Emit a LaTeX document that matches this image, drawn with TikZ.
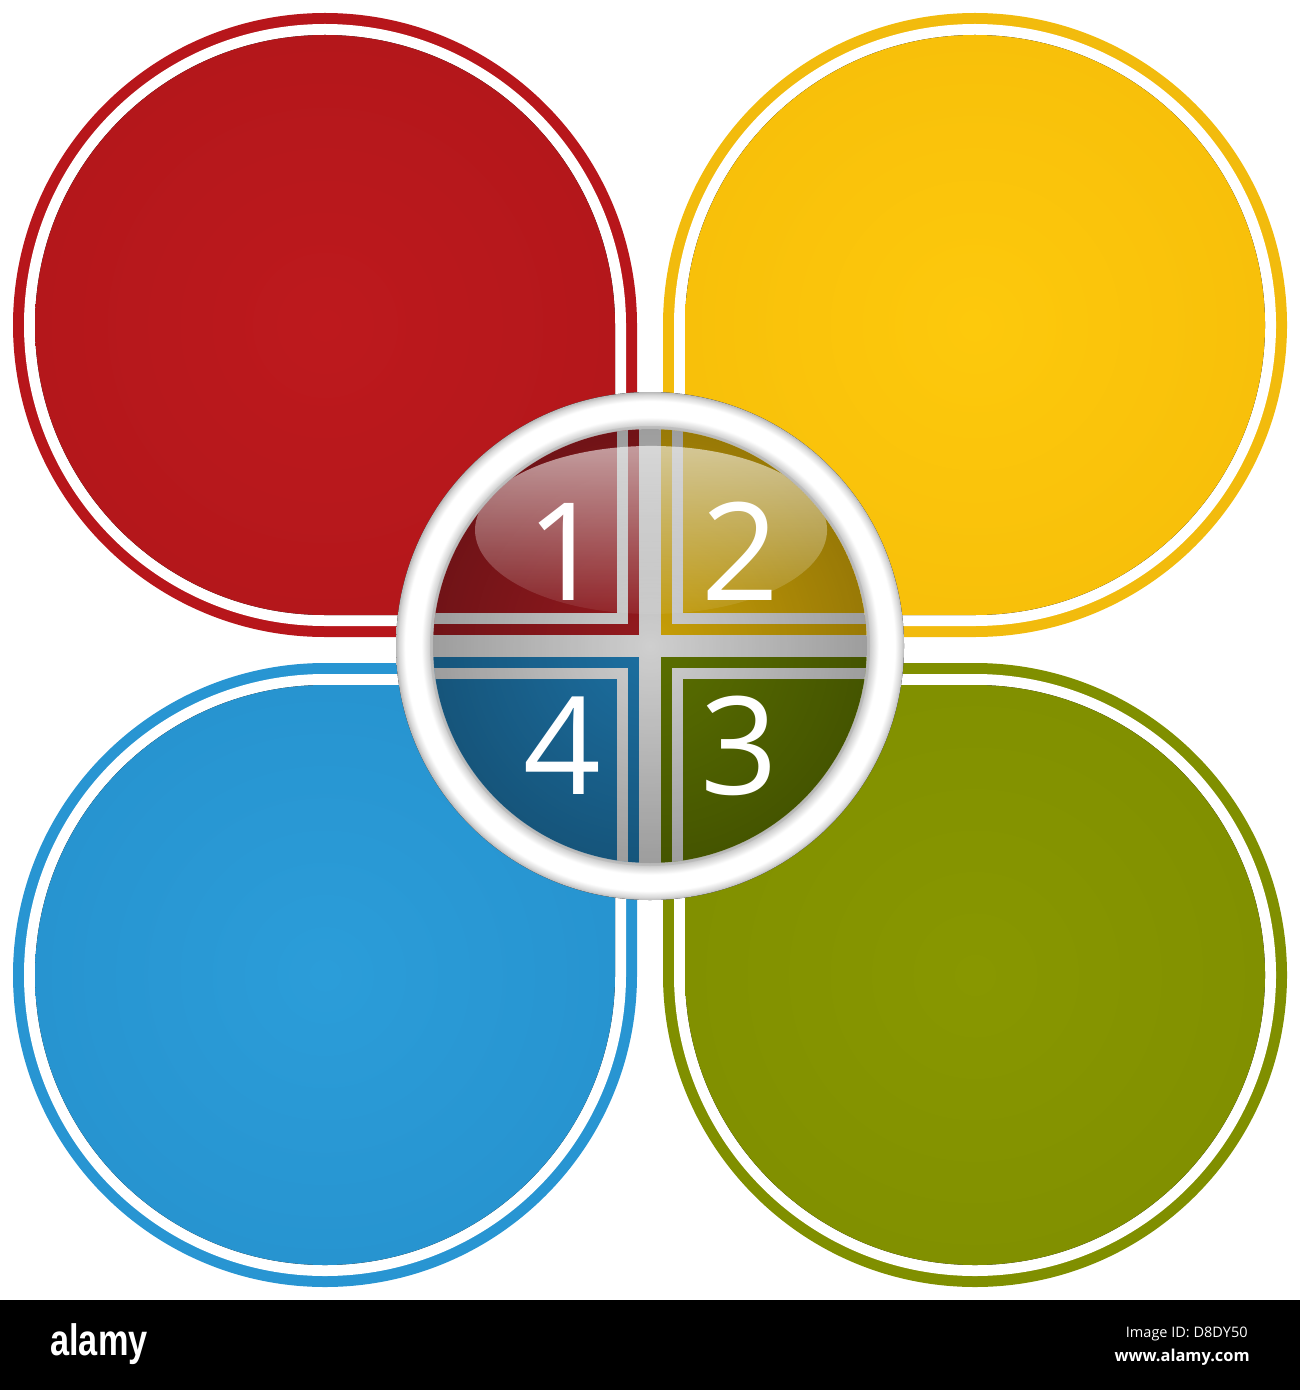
\documentclass[tikz,border=0pt]{standalone}
\usepackage{fontspec}
\usetikzlibrary{fadings}
\newfontfamily\digitfont{Open Sans}
\newfontfamily\barfont{Liberation Sans}
\newfontfamily\urlfont{Open Sans}
\definecolor{redband}{HTML}{B7161B}
\definecolor{redfill}{HTML}{BD191D}
\definecolor{rededge}{HTML}{B4171B}
\definecolor{yelband}{HTML}{F2BB0D}
\definecolor{yelfill}{HTML}{FDC90C}
\definecolor{yeledge}{HTML}{F8C00A}
\definecolor{bluband}{HTML}{2895D2}
\definecolor{blufill}{HTML}{2B9DD9}
\definecolor{bluedge}{HTML}{2794D0}
\definecolor{griband}{HTML}{808F00}
\definecolor{grifill}{HTML}{889700}
\definecolor{griedge}{HTML}{819000}
\definecolor{qred}{HTML}{951A1F}
\definecolor{qyel}{HTML}{C9A008}
\definecolor{qgri}{HTML}{5B7000}
\definecolor{qblu}{HTML}{1D70A2}
\definecolor{gridgrey}{HTML}{CFCFCF}
\tikzfading[name=glossfade, top color=transparent!42, bottom color=transparent!94]
\tikzfading[name=vignfade, inner color=transparent!100, outer color=transparent!76]
\pgfdeclareradialshading{ringshade}{\pgfpoint{0bp}{0bp}}{color(0bp)=(white); color(21.2bp)=(gray!60); color(22.5bp)=(white); color(24.1bp)=(white); color(24.7bp)=(gray!30); color(25bp)=(gray!55); color(50bp)=(gray!55)}
\newcommand\petalshape[1]{(#1,0) -- (#1,#1) -- (0,#1) arc[start angle=90,end angle=360,radius=#1] -- cycle}
\newcommand\petal[5]{%
  \begin{scope}[shift={(#1,#2)}, xscale=#3, yscale=#4]
    \fill[#5band] \petalshape{312};
    \fill[white] \petalshape{301};
    \fill[inner color=#5fill, outer color=#5edge] \petalshape{290};
  \end{scope}}
\newcommand\quadrant[3]{%
  \fill[#3] ({650+#1*11},{646+#2*11}) rectangle ({650+#1*240},{646+#2*240});
  \fill[gridgrey] ({650+#1*22},{646+#2*22}) rectangle ({650+#1*240},{646+#2*240});
  \fill[#3] ({650+#1*33},{646+#2*33}) rectangle ({650+#1*240},{646+#2*240});}
\tikzset{numtext/.style={text=white, inner sep=0, anchor=base, font=\digitfont\fontsize{68}{68}\selectfont}}
\begin{document}
\begin{tikzpicture}[x=0.5pt,y=-0.5pt]
\useasboundingbox (0,0) rectangle (1300,1390);
\fill[white] (0,0) rectangle (1300,1390);
% petals
\petal{325}{325}{1}{1}{red}
\petal{975}{325}{-1}{1}{yel}
\petal{325}{975}{1}{-1}{blu}
\petal{975}{975}{-1}{-1}{gri}
% centre ring
\fill[shading=ringshade] (650,646) circle (254);
\begin{scope}
  \clip (650,646) circle (217);
  \fill[gridgrey] (420,420) rectangle (880,880);
  \quadrant{-1}{-1}{qred}
  \quadrant{1}{-1}{qyel}
  \quadrant{1}{1}{qgri}
  \quadrant{-1}{1}{qblu}
  \fill[black, path fading=vignfade] (650,646) circle (217);
  \fill[white, path fading=glossfade] (651,530) ellipse [x radius=176, y radius=84];
\end{scope}
\draw[gray!60, line width=1.5pt, opacity=.5] (650,646) circle (218.5);
\node[numtext] (n1) at (565,600) {1};
\node[numtext] (n2) at (740,600) {2};
\node[numtext] (n3) at (739,794) {3};
\node[numtext] (n4) at (562,794) {4};
% bottom bar
\fill[black] (0,1300) rectangle (1300,1390);
\node[anchor=base west, text=white, inner sep=0, xscale=0.78] (logo) at (50,1355) {\barfont\bfseries\fontsize{22}{22}\selectfont alamy};
\node[anchor=base east, text=white, inner sep=0] (imgid) at (1248,1337) {\urlfont\fontsize{7.25}{7.25}\selectfont Image ID: D8DY50};
\node[anchor=base east, text=white, inner sep=0] (url) at (1250,1361) {\urlfont\bfseries\fontsize{8.2}{8.2}\selectfont www.alamy.com};
\end{tikzpicture}
\end{document}
